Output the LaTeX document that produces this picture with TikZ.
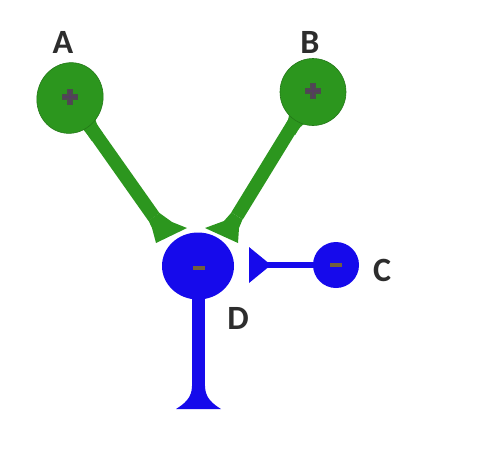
\documentclass[tikz,border=0pt]{standalone}
\usepackage{fontspec}
\setmainfont{Carlito}
\usetikzlibrary{shapes.geometric}
\definecolor{ngreen}{RGB}{44,150,30}
\definecolor{nblue}{RGB}{22,10,235}
\definecolor{lbl}{RGB}{45,45,45}
\definecolor{plusc}{RGB}{85,62,95}
\definecolor{minusc}{RGB}{115,95,60}
\tikzset{
  gcell/.style={ellipse, fill=ngreen, draw=ngreen!80!black, line width=0.6pt, inner sep=0pt},
  bcell/.style={ellipse, fill=nblue, inner sep=0pt},
  gaxon/.style={draw=ngreen, line width=13.5pt},
  baxon/.style={draw=nblue},
  lab/.style={font=\bfseries\fontsize{34}{34}\selectfont, text=lbl, inner sep=0pt},
}
\begin{document}
\begin{tikzpicture}[x=1pt,y=-1pt]
\useasboundingbox (0,0) rectangle (484,448);
% coordinates for terminals
\coordinate (ta) at (154,217);
\coordinate (tb) at (237,216);
\coordinate (tc) at (262,265);
% green axons
\draw[gaxon] (70,98) coordinate (a0) -- (ta);
\draw[gaxon] (313,92) coordinate (b0) -- (tb);
% green terminals
\fill[ngreen] (159.5,213) -- (148.5,220.5) -- (152,228) -- (156,243) -- (187,228) -- (172,222) -- cycle;
\fill[ngreen] (231.5,212.5) -- (224,221) -- (205,228) -- (238,243) -- (239,228) -- (242.5,219.5) -- cycle;
% necks at the cell bodies
\fill[ngreen] (79,125) .. controls (85.1,131.4) .. (92,141.2) -- (103,133.4) .. controls (96.1,123.6) .. (95,116) -- cycle;
\fill[ngreen] (306.2,122.8) .. controls (300.3,126.4) .. (295.2,134.9) -- (283.6,127.9) .. controls (288.7,119.4) .. (289,112.6) -- cycle;
% green cells
\node[gcell, minimum width=66pt, minimum height=71pt, rotate=-15] (A) at (a0) {};
\node[gcell, minimum width=66pt, minimum height=67pt] (B) at (b0) {};
% plus signs
\foreach \px/\py in {70/97,313/91}{
  \draw[line width=5.2pt, black!70] (\px-8,\py) -- (\px+8,\py);
  \draw[line width=5.2pt, black!70] (\px,\py-8) -- (\px,\py+8);
  \draw[line width=2.8pt, plusc] (\px-7,\py) -- (\px+7,\py);
  \draw[line width=2.8pt, plusc] (\px,\py-7) -- (\px,\py+7);
}
% D cell
\node[bcell, minimum width=72pt, minimum height=67pt] (D) at (198,266) {};
\fill[nblue] (192,285) rectangle (205,392);
\fill[nblue] (192,386) .. controls (192,398) and (184,404) .. (176,409) -- (221,409) .. controls (213,404) and (205,398) .. (205,386) -- cycle;
% C cell
\node[bcell, circle, minimum size=46pt] (C) at (336,265) {};
\draw[baxon, line width=6pt] (C.center) -- (tc);
\fill[nblue] (249,247) -- (249,283) -- (271,265) -- cycle;
% minus signs
\fill[minusc] (193,265.5) rectangle (205,270);
\fill[minusc] (330,262.5) rectangle (342,267);
% labels
\node[lab] (lA) at (63,42) {A};
\node[lab] (lB) at (310,42) {B};
\node[lab] (lC) at (382,270) {C};
\node[lab] (lD) at (238,318) {D};
\end{tikzpicture}
\end{document}
